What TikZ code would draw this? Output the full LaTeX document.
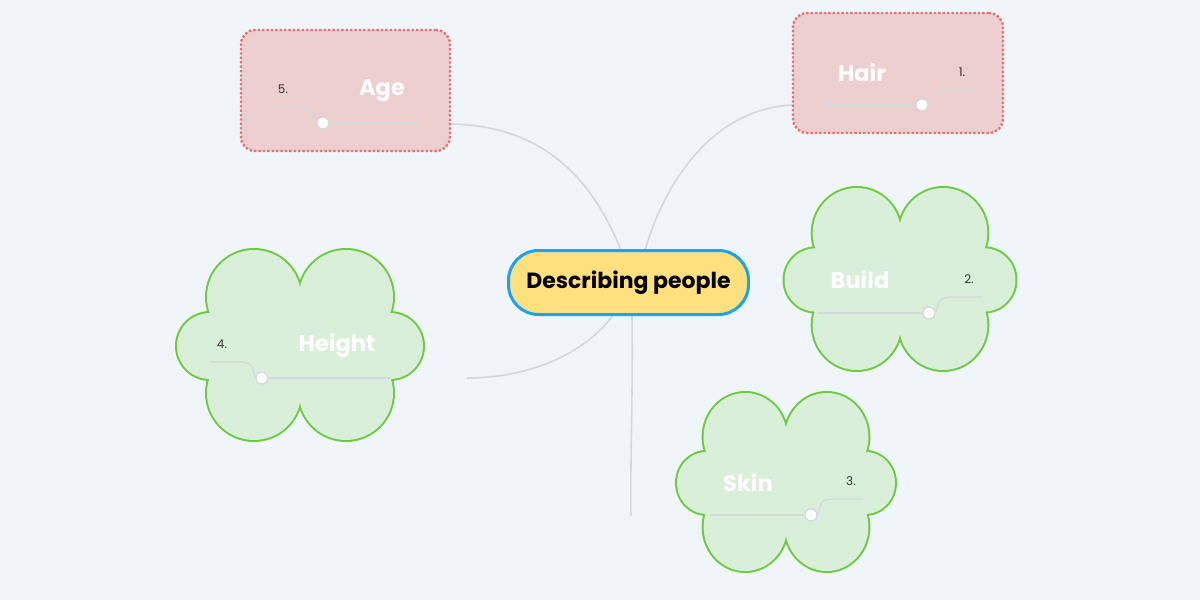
\documentclass[tikz,border=0pt]{standalone}
\usepackage{fontspec}
\setmainfont{Poppins}
\begin{document}
\begin{tikzpicture}[x=1pt,y=-1pt,
  conn/.style={draw=linegray,line width=1.6pt},
  sub/.style={line width=1.3pt,draw=linegray},
  knob/.style={circle,draw=linegray,fill=white,line width=1.2pt,minimum size=12pt,inner sep=0pt},
  ttl/.style={text=white,font=\bfseries\fontsize{22.5}{24}\selectfont},
  num/.style={text=numgray,font=\fontsize{12}{13}\selectfont},
  redbox/.style={draw=boxred,fill=boxpink,line width=2.4pt,dotted,rounded corners=14pt,minimum width=#1},
  cloud/.pic={
    \foreach \a/\b/\r in {-46/-48/47,46/-48/47,-90/1/33,90/1/33,-46/48/47,46/48/47}
      \draw[draw=cloudgreen,fill=cloudfill,line width=4pt] (\a,\b) circle[radius=\r];
    \foreach \a/\b/\r in {-46/-48/47,46/-48/47,-90/1/33,90/1/33,-46/48/47,46/48/47}
      \fill[cloudfill] (\a,\b) circle[radius=\r];
    \fill[cloudfill] (-92,-30) rectangle (92,30);
    \fill[cloudfill] (-50,-50) rectangle (50,50);
  }]
\definecolor{bg}{HTML}{F0F5F9}
\definecolor{linegray}{HTML}{D3D8DC}
\definecolor{numgray}{HTML}{333333}
\definecolor{boxred}{HTML}{E57373}
\definecolor{boxpink}{HTML}{EDCFD0}
\definecolor{cloudgreen}{HTML}{6CCB3E}
\definecolor{cloudfill}{HTML}{DAEFDA}
\definecolor{cyellow}{HTML}{FFE07F}
\definecolor{cblue}{HTML}{1AA3EF}
\fill[bg] (0,0) rectangle (1200,600);
\useasboundingbox (0,0) rectangle (1200,600);

% connectors
\coordinate (cA) at (621,250);
\coordinate (cH) at (645,250);
\coordinate (cL) at (614,314);
\coordinate (cS) at (632,316);
\coordinate (sEnd) at (631,516);
\coordinate (ageR) at (451,124);
\coordinate (hairL) at (794,105);
\coordinate (heightR) at (467,378);
\draw[conn] (ageR) .. controls (560,126) and (600,200) .. (cA);
\draw[conn] (cH) .. controls (668,172) and (720,107) .. (hairL);
\draw[conn] (cL) .. controls (580,360) and (520,378) .. (heightR);
\draw[conn] (cS) .. controls (633,400) and (630,470) .. (sEnd);

% red boxes
\node[redbox=209pt,minimum height=121pt] (age) at (345.5,90.5) {};
\node[redbox=210pt,minimum height=120pt] (hair) at (898,73) {};

% clouds
\pic at (300,345) {cloud};
\pic[xscale=0.939,yscale=0.958] at (900,279) {cloud};
\pic[xscale=0.886,yscale=0.937] at (786,482) {cloud};

% center
\node[draw=cblue,fill=cyellow,line width=3pt,rounded corners=30pt,minimum width=240pt,minimum height=64pt,font=\bfseries\fontsize{22}{24}\selectfont] (center) at (628.5,282.5) {Describing people};

% titles
\node[ttl] (tAge) at (382,91) {Age};
\node[ttl] (tHair) at (862,73) {Hair};
\node[ttl] (tBuild) at (860,280) {Build};
\node[ttl] (tHeight) at (337,346) {Height};
\node[ttl] (tSkin) at (748,483) {Skin};

% sub lines
\node[knob] (kAge) at (323,123) {};
\coordinate (aE) at (420,123); \coordinate (aT) at (272,107);
\draw[sub] (kAge) -- (aE);
\draw[sub] (kAge.west) .. controls (312,108) .. (295,107) -- (aT);
\node[num] (nAge) at (283,89) {5.};

\node[knob] (kHair) at (922,105) {};
\coordinate (hE) at (823,105); \coordinate (hT) at (973,90);
\draw[sub] (kHair) -- (hE);
\draw[sub] (kHair.east) .. controls (933,90) .. (950,90) -- (hT);
\node[num] (nHair) at (962,72) {1.};

\node[knob] (kBuild) at (929,313) {};
\coordinate (bE) at (818,313); \coordinate (bT) at (982,297);
\draw[sub] (kBuild) -- (bE);
\draw[sub] (kBuild.east) .. controls (940,297) .. (957,297) -- (bT);
\node[num] (nBuild) at (969,279) {2.};

\node[knob] (kHeight) at (262,378) {};
\coordinate (htE) at (390,378); \coordinate (htT) at (210,362);
\draw[sub] (kHeight) -- (htE);
\draw[sub] (kHeight.west) .. controls (251,362) .. (234,362) -- (htT);
\node[num] (nHeight) at (222,344) {4.};

\node[knob] (kSkin) at (811,515) {};
\coordinate (sE) at (710,515); \coordinate (sT) at (863,499);
\draw[sub] (kSkin) -- (sE);
\draw[sub] (kSkin.east) .. controls (822,499) .. (839,499) -- (sT);
\node[num] (nSkin) at (851,481) {3.};
\end{tikzpicture}
\end{document}
